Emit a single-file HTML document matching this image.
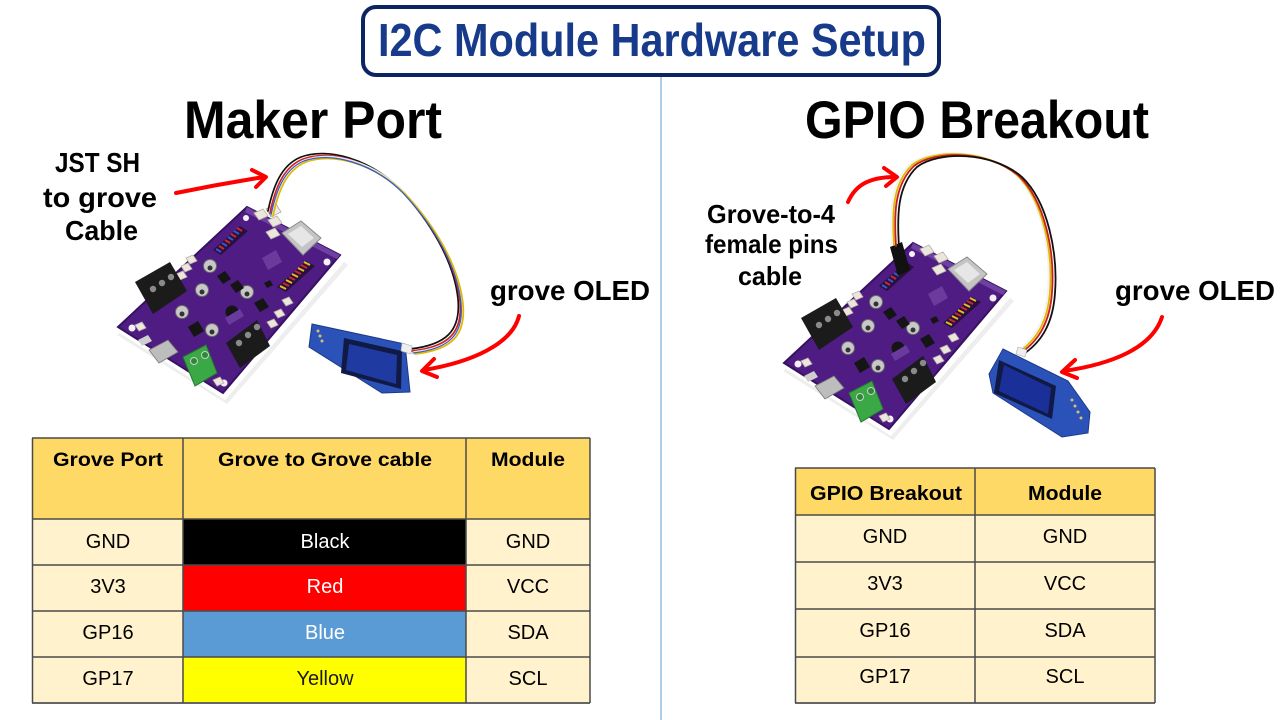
<!DOCTYPE html>
<html>
<head>
<meta charset="utf-8">
<style>
  html,body{margin:0;padding:0;background:#fff;}
  body{width:1280px;height:720px;overflow:hidden;}
  svg{display:block;}
  .b{font-family:"Liberation Sans",Arial,sans-serif;font-weight:bold;}
  .r{font-family:"Liberation Sans",Arial,sans-serif;font-weight:normal;}
</style>
</head>
<body>
<svg width="1280" height="720" viewBox="0 0 1280 720" xmlns="http://www.w3.org/2000/svg">
  <rect x="0" y="0" width="1280" height="720" fill="#ffffff"/>

  <defs>
    <g id="board">
      <!-- shadow -->
      <polygon points="120,333 225,400 344,262 348,265 227,404 117,335" fill="#eeeeee"/>
      <!-- PCB -->
      <polygon points="247,207 340,255 223,393 118,327" fill="#4e1c82" stroke="#361260" stroke-width="2"/>
      <polygon points="247,207 340,255 337,259 245,212" fill="#6e40a2"/>
      <!-- mounting holes -->
      <circle cx="132" cy="328" r="3.5" fill="#f4f0f6"/>
      <circle cx="224" cy="383" r="3.5" fill="#f4f0f6"/>
      <circle cx="327" cy="262" r="3.5" fill="#f4f0f6"/>
      <circle cx="246" cy="218" r="3" fill="#f4f0f6"/>
      <!-- white JST connectors top edge -->
      <polygon points="254,213 263,209 268,216 259,220" fill="#ece6dc" stroke="#b8b0a8" stroke-width="0.8"/>
      <polygon points="268,220 277,216 282,223 273,227" fill="#ece6dc" stroke="#b8b0a8" stroke-width="0.8"/>
      <polygon points="266,232 275,228 280,235 271,239" fill="#ece6dc" stroke="#b8b0a8" stroke-width="0.8"/>
      <!-- white connectors left edge -->
      <polygon points="186,258 193,255 197,261 190,264" fill="#ece6dc" stroke="#b8b0a8" stroke-width="0.8"/>
      <polygon points="181,266 188,263 192,269 185,272" fill="#ece6dc" stroke="#b8b0a8" stroke-width="0.8"/>
      <polygon points="176,274 183,271 187,277 180,280" fill="#ece6dc" stroke="#b8b0a8" stroke-width="0.8"/>
      <polygon points="135,325 142,322 146,328 139,331" fill="#ece6dc" stroke="#b8b0a8" stroke-width="0.8"/>
      <!-- white connectors right edge -->
      <polygon points="282,300 289,297 293,303 286,306" fill="#ece6dc" stroke="#b8b0a8" stroke-width="0.8"/>
      <polygon points="274,312 281,309 285,315 278,318" fill="#ece6dc" stroke="#b8b0a8" stroke-width="0.8"/>
      <polygon points="267,322 274,319 278,325 271,328" fill="#ece6dc" stroke="#b8b0a8" stroke-width="0.8"/>
      <polygon points="213,380 220,377 224,383 217,386" fill="#ece6dc" stroke="#b8b0a8" stroke-width="0.8"/>
      <!-- blue/red pin header -->
      <polygon points="213,250 240,226 248,231 221,255" fill="#2a1040"/>
      <g stroke-width="2">
        <line x1="216" y1="249" x2="221" y2="252" stroke="#2d5bd0"/>
        <line x1="219" y1="246" x2="224" y2="249" stroke="#d02828"/>
        <line x1="222" y1="243" x2="227" y2="246" stroke="#2d5bd0"/>
        <line x1="225" y1="240" x2="230" y2="243" stroke="#d02828"/>
        <line x1="228" y1="237" x2="233" y2="240" stroke="#2d5bd0"/>
        <line x1="231" y1="234" x2="236" y2="237" stroke="#d02828"/>
        <line x1="234" y1="231" x2="239" y2="234" stroke="#2d5bd0"/>
        <line x1="237" y1="228" x2="242" y2="231" stroke="#d02828"/>
      </g>
      <!-- yellow/red pin header -->
      <polygon points="277,287 306,261 315,266 286,292" fill="#2a1040"/>
      <g stroke-width="2">
        <line x1="280" y1="286" x2="286" y2="289" stroke="#e0c020"/>
        <line x1="283" y1="283" x2="289" y2="286" stroke="#d02828"/>
        <line x1="286" y1="280" x2="292" y2="283" stroke="#e0c020"/>
        <line x1="289" y1="277" x2="295" y2="280" stroke="#d02828"/>
        <line x1="292" y1="274" x2="298" y2="277" stroke="#e0c020"/>
        <line x1="295" y1="271" x2="301" y2="274" stroke="#d02828"/>
        <line x1="298" y1="268" x2="304" y2="271" stroke="#e0c020"/>
        <line x1="301" y1="265" x2="307" y2="268" stroke="#d02828"/>
        <line x1="304" y1="262" x2="310" y2="265" stroke="#e0c020"/>
      </g>
      <!-- USB-A -->
      <polygon points="282,233 301,221 321,238 303,255" fill="#c4c4c4" stroke="#8a8a8a" stroke-width="1"/>
      <polygon points="288,234 301,226 314,238 302,247" fill="#e6e6e6"/>
      <!-- black terminal blocks -->
      <polygon points="135,282 170,262 187,291 153,314" fill="#1b1b1b"/>
      <circle cx="153" cy="289" r="3.2" fill="#8a8a8a"/>
      <circle cx="162" cy="283" r="3.2" fill="#8a8a8a"/>
      <circle cx="171" cy="277" r="3.2" fill="#8a8a8a"/>
      <polygon points="226,343 257,320 270,346 240,368" fill="#1b1b1b"/>
      <circle cx="239" cy="343" r="3.2" fill="#8a8a8a"/>
      <circle cx="248" cy="335" r="3.2" fill="#8a8a8a"/>
      <circle cx="257" cy="327" r="3.2" fill="#8a8a8a"/>
      <!-- green terminal -->
      <polygon points="183,357 206,345 217,373 195,386" fill="#3aa845" stroke="#257a30" stroke-width="1"/>
      <circle cx="194" cy="361" r="3.5" fill="#2c8a36" stroke="#cfcfcf" stroke-width="1"/>
      <circle cx="205" cy="355" r="3.5" fill="#2c8a36" stroke="#cfcfcf" stroke-width="1"/>
      <!-- USB-C -->
      <polygon points="149,350 168,340 178,352 159,363" fill="#bdbdbd" stroke="#777" stroke-width="0.8"/>
      <!-- switch -->
      <polygon points="138,340 148,335 152,341 142,346" fill="#cfcfcf"/>
      <!-- capacitors -->
      <g fill="#c8c8c8" stroke="#6a6a6a" stroke-width="1">
        <circle cx="210" cy="266" r="6.5"/>
        <circle cx="202" cy="290" r="6.5"/>
        <circle cx="247" cy="292" r="6.5"/>
        <circle cx="182" cy="312" r="6.5"/>
        <circle cx="212" cy="330" r="6.5"/>
      </g>
      <g fill="#333">
        <circle cx="210" cy="268" r="2.5"/>
        <circle cx="202" cy="292" r="2.5"/>
        <circle cx="247" cy="294" r="2.5"/>
        <circle cx="182" cy="314" r="2.5"/>
        <circle cx="212" cy="332" r="2.5"/>
      </g>
      <!-- black ICs / inductors -->
      <g fill="#151515">
        <polygon points="217,276 225,271 231,279 223,284"/>
        <polygon points="230,285 238,280 244,288 236,293"/>
        <circle cx="232" cy="312" r="6.5"/>
        <polygon points="254,303 263,298 269,307 260,312"/>
        <polygon points="188,327 198,321 204,331 194,337"/>
        <polygon points="264,283 270,280 273,285 267,288"/>
      </g>
      <!-- silkscreen label hint -->
      <polygon points="262,258 276,250 282,262 268,270" fill="#6a3a9c"/>
      <polygon points="225,318 240,309 244,316 229,325" fill="#6a3a9c"/>
    </g>
  </defs>

  <!-- Title box -->
  <rect x="363" y="7" width="576" height="68" rx="13" ry="13" fill="#ffffff" stroke="#0c2462" stroke-width="4"/>
  <text class="b" x="378" y="56" font-size="46" fill="#173a8a" textLength="548" lengthAdjust="spacingAndGlyphs">I2C Module Hardware Setup</text>

  <!-- divider -->
  <line x1="661" y1="77" x2="661" y2="720" stroke="#5b9bd5" stroke-width="1"/>

  <!-- Headings -->
  <text class="b" x="184" y="138" font-size="53" fill="#000" textLength="258" lengthAdjust="spacingAndGlyphs">Maker Port</text>
  <text class="b" x="805" y="138" font-size="53" fill="#000" textLength="344" lengthAdjust="spacingAndGlyphs">GPIO Breakout</text>

  <!-- Boards -->
  <use href="#board"/>
  <use href="#board" transform="translate(666,36)"/>

  <!-- Left JST connector on board -->
  <polygon points="266,209 276,204 281,212 271,217" fill="#f0ebe3" stroke="#aaa" stroke-width="0.8"/>

  <!-- Left cable -->
  <g fill="none" stroke-width="1.7" stroke-linecap="round">
    <path d="M270,212 C275,188 283,166 303,158 C330,148 372,160 402,190 C432,222 456,262 460,300 C463,332 448,346 412,350" stroke="#111" transform="translate(-2,-1)"/>
    <path d="M270,212 C275,188 283,166 303,158 C330,148 372,160 402,190 C432,222 456,262 460,300 C463,332 448,346 412,350" stroke="#d42020" transform="translate(0,1)"/>
    <path d="M270,212 C275,188 283,166 303,158 C330,148 372,160 402,190 C432,222 456,262 460,300 C463,332 448,346 412,350" stroke="#e6e6e6" transform="translate(2,2)"/>
    <path d="M270,212 C275,188 283,166 303,158 C330,148 372,160 402,190 C432,222 456,262 460,300 C463,332 448,346 412,350" stroke="#e0b800" transform="translate(3,4)"/>
    <path d="M270,212 C275,188 283,166 303,158 C330,148 372,160 402,190 C432,222 456,262 460,300 C463,332 448,346 412,350" stroke="#2d5bd0" stroke-width="1.2" transform="translate(1,3)"/>
  </g>

  <!-- Left OLED -->
  <polygon points="312,324 405,344 410,392 382,393 309,347" fill="#2a52b8" stroke="#1d3a88" stroke-width="1"/>
  <polygon points="344,338 402,351 401,389 341,373" fill="#101a44"/>
  <polygon points="349,344 397,355 396,384 346,370" fill="#1f3aa0"/>
  <g fill="#d8c070">
    <circle cx="318" cy="331" r="1.5"/><circle cx="320" cy="336" r="1.5"/><circle cx="322" cy="341" r="1.5"/>
  </g>
  <polygon points="402,343 412,346 411,354 401,351" fill="#eee" stroke="#aaa" stroke-width="0.6"/>

  <!-- Right pin housing on board -->
  <polygon points="890,247 902,242 910,270 898,276" fill="#111"/>

  <!-- Right cable -->
  <g fill="none" stroke-width="1.8" stroke-linecap="round">
    <path d="M897,246 C895,215 895,185 915,166 C936,150 990,150 1020,176 C1046,201 1056,252 1053,292 C1051,322 1040,340 1023,352" stroke="#f2f2f2" transform="translate(-5,-2)"/>
    <path d="M897,246 C895,215 895,185 915,166 C936,150 990,150 1020,176 C1046,201 1056,252 1053,292 C1051,322 1040,340 1023,352" stroke="#e0b800" transform="translate(-3,-1)"/>
    <path d="M897,246 C895,215 895,185 915,166 C936,150 990,150 1020,176 C1046,201 1056,252 1053,292 C1051,322 1040,340 1023,352" stroke="#c81e1e" transform="translate(-1,0)"/>
    <path d="M897,246 C895,215 895,185 915,166 C936,150 990,150 1020,176 C1046,201 1056,252 1053,292 C1051,322 1040,340 1023,352" stroke="#111" transform="translate(2,1)"/>
  </g>

  <!-- Right OLED -->
  <polygon points="1003,349 1068,381 1090,412 1088,433 1062,437 993,393 989,374" fill="#2a52b8" stroke="#1d3a88" stroke-width="1"/>
  <polygon points="999,360 1056,386 1052,419 994,393" fill="#101a44"/>
  <polygon points="1004,365 1051,388 1048,414 999,391" fill="#1b2f98"/>
  <g fill="#d8c070">
    <circle cx="1072" cy="400" r="1.5"/><circle cx="1075" cy="406" r="1.5"/><circle cx="1078" cy="412" r="1.5"/><circle cx="1081" cy="418" r="1.5"/>
  </g>
  <polygon points="1018,347 1027,350 1025,357 1016,354" fill="#eee" stroke="#aaa" stroke-width="0.6"/>

  <!-- Red arrows -->
  <g fill="none" stroke="#ff0000" stroke-width="4" stroke-linecap="round" stroke-linejoin="round">
    <path d="M176,193 Q220,184 264,177"/>
    <path d="M252,170 L266,177 L256,187"/>
    <path d="M519,316 C512,344 472,362 424,370"/>
    <path d="M434,359 L422,371 L437,377"/>
    <path d="M848,202 C855,186 868,177 895,177"/>
    <path d="M884,168 L897,177 L886,186"/>
    <path d="M1162,317 C1152,348 1112,364 1064,371"/>
    <path d="M1075,360 L1062,372 L1077,378"/>
  </g>

  <!-- Labels -->
  <text class="b" x="55" y="172" font-size="28" fill="#000" textLength="85" lengthAdjust="spacingAndGlyphs">JST SH</text>
  <text class="b" x="43" y="207" font-size="28" fill="#000" textLength="114" lengthAdjust="spacingAndGlyphs">to grove</text>
  <text class="b" x="65" y="240" font-size="28" fill="#000" textLength="73" lengthAdjust="spacingAndGlyphs">Cable</text>

  <text class="b" x="490" y="300" font-size="28" fill="#000" textLength="160" lengthAdjust="spacingAndGlyphs">grove OLED</text>
  <text class="b" x="1115" y="300" font-size="28" fill="#000" textLength="160" lengthAdjust="spacingAndGlyphs">grove OLED</text>

  <text class="b" x="707" y="223" font-size="26" fill="#000" textLength="128" lengthAdjust="spacingAndGlyphs">Grove-to-4</text>
  <text class="b" x="705" y="253" font-size="26" fill="#000" textLength="133" lengthAdjust="spacingAndGlyphs">female pins</text>
  <text class="b" x="738" y="285" font-size="26" fill="#000" textLength="64" lengthAdjust="spacingAndGlyphs">cable</text>

  <!-- Left table -->
  <g>
    <rect x="32" y="438" width="558" height="81" fill="#FFD966"/>
    <rect x="32" y="519" width="151" height="184" fill="#FFF2CC"/>
    <rect x="466" y="519" width="124" height="184" fill="#FFF2CC"/>
    <rect x="183" y="519" width="283" height="46" fill="#000000"/>
    <rect x="183" y="565" width="283" height="46" fill="#FF0000"/>
    <rect x="183" y="611" width="283" height="46" fill="#5B9BD5"/>
    <rect x="183" y="657" width="283" height="46" fill="#FFFF00"/>
    <g stroke="#4a4a4a" stroke-width="1.5">
      <line x1="32" y1="438" x2="590" y2="438"/>
      <line x1="32" y1="519" x2="590" y2="519"/>
      <line x1="32" y1="565" x2="590" y2="565"/>
      <line x1="32" y1="611" x2="590" y2="611"/>
      <line x1="32" y1="657" x2="590" y2="657"/>
      <line x1="32" y1="703" x2="590" y2="703" stroke="#666" stroke-width="2"/>
      <line x1="32.5" y1="438" x2="32.5" y2="703"/>
      <line x1="183" y1="438" x2="183" y2="703"/>
      <line x1="466" y1="438" x2="466" y2="703"/>
      <line x1="590" y1="438" x2="590" y2="703"/>
    </g>
    <text class="b" x="108" y="466" font-size="19" fill="#000" text-anchor="middle" textLength="110" lengthAdjust="spacingAndGlyphs">Grove Port</text>
    <text class="b" x="325" y="466" font-size="19" fill="#000" text-anchor="middle" textLength="214" lengthAdjust="spacingAndGlyphs">Grove to Grove cable</text>
    <text class="b" x="528" y="466" font-size="19" fill="#000" text-anchor="middle" textLength="74" lengthAdjust="spacingAndGlyphs">Module</text>

    <g class="r" font-size="20" text-anchor="middle" fill="#000">
      <text x="108" y="548">GND</text>
      <text x="108" y="593">3V3</text>
      <text x="108" y="639">GP16</text>
      <text x="108" y="685">GP17</text>
      <text x="528" y="548">GND</text>
      <text x="528" y="593">VCC</text>
      <text x="528" y="639">SDA</text>
      <text x="528" y="685">SCL</text>
      <text x="325" y="548" fill="#fff">Black</text>
      <text x="325" y="593" fill="#fff">Red</text>
      <text x="325" y="639" fill="#fff">Blue</text>
      <text x="325" y="685" fill="#1a1a1a">Yellow</text>
    </g>
  </g>

  <!-- Right table -->
  <g>
    <rect x="795" y="468" width="360" height="47" fill="#FFD966"/>
    <rect x="795" y="515" width="360" height="188" fill="#FFF2CC"/>
    <g stroke="#4a4a4a" stroke-width="1.5">
      <line x1="795" y1="468" x2="1155" y2="468"/>
      <line x1="795" y1="515" x2="1155" y2="515"/>
      <line x1="795" y1="562" x2="1155" y2="562"/>
      <line x1="795" y1="609" x2="1155" y2="609"/>
      <line x1="795" y1="657" x2="1155" y2="657"/>
      <line x1="795" y1="703" x2="1155" y2="703" stroke="#666" stroke-width="2"/>
      <line x1="795.5" y1="468" x2="795.5" y2="703"/>
      <line x1="975" y1="468" x2="975" y2="703"/>
      <line x1="1155" y1="468" x2="1155" y2="703"/>
    </g>
    <text class="b" x="886" y="500" font-size="20" fill="#000" text-anchor="middle" textLength="152" lengthAdjust="spacingAndGlyphs">GPIO Breakout</text>
    <text class="b" x="1065" y="500" font-size="20" fill="#000" text-anchor="middle" textLength="74" lengthAdjust="spacingAndGlyphs">Module</text>
    <g class="r" font-size="20" text-anchor="middle" fill="#000">
      <text x="885" y="543">GND</text>
      <text x="885" y="590">3V3</text>
      <text x="885" y="637">GP16</text>
      <text x="885" y="683">GP17</text>
      <text x="1065" y="543">GND</text>
      <text x="1065" y="590">VCC</text>
      <text x="1065" y="637">SDA</text>
      <text x="1065" y="683">SCL</text>
    </g>
  </g>
</svg>
</body>
</html>
